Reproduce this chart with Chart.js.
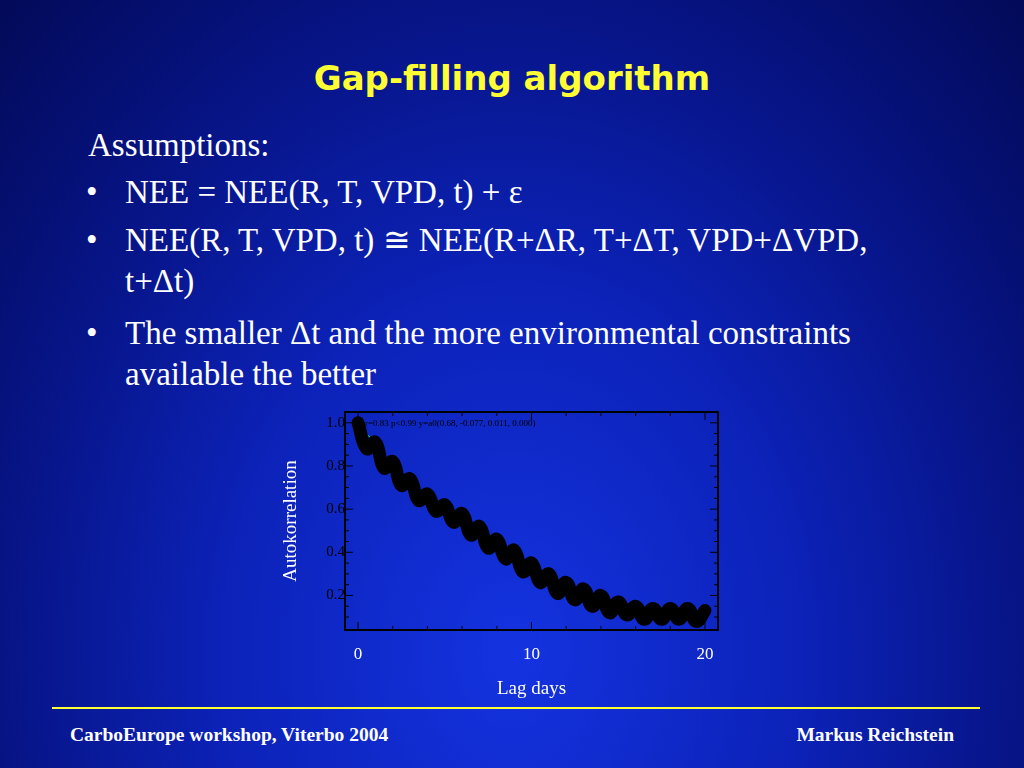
<!DOCTYPE html>
<html>
<head>
<meta charset="utf-8">
<script src="https://cdn.jsdelivr.net/npm/chart.js@4"></script>
<style>
  html, body { margin: 0; padding: 0; }
  body {
    width: 1024px; height: 768px; position: relative; overflow: hidden;
    background: radial-gradient(ellipse at 50% 85%, #1433e0 0%, #0c22b8 40%, #06127e 75%, #030a58 100%);
    font-family: "Liberation Serif", "DejaVu Serif", serif; color: #fff;
  }
  h1 {
    position: absolute; left: 0; width: 1024px; top: 58px; margin: 0; text-align: center;
    font-family: "DejaVu Sans", sans-serif; font-weight: bold; font-size: 34px; color: #ffff33;
  }
  .txt { position: absolute; font-size: 33px; line-height: 41px; }
  .bul { position: absolute; left: 86px; font-size: 33px; line-height: 41px; }
  #box { position: absolute; left: 270px; top: 405px; width: 470px; height: 295px; }
  #rule { position: absolute; left: 52px; top: 707px; width: 928px; height: 2px; background: #ffff33; }
  .foot { position: absolute; top: 724px; font-size: 19.5px; font-weight: bold; }
</style>
</head>
<body>
<h1>Gap-filling algorithm</h1>
<div class="txt" style="left:88px;top:125px">Assumptions:</div>
<div class="bul" style="top:172px">•</div>
<div class="txt" style="left:125px;top:172px">NEE = NEE(R, T, VPD, t) + ε</div>
<div class="bul" style="top:220px">•</div>
<div class="txt" style="left:125px;top:220px">NEE(R, T, VPD, t) ≅ NEE(R+ΔR, T+ΔT, VPD+ΔVPD,<br>t+Δt)</div>
<div class="bul" style="top:313px">•</div>
<div class="txt" style="left:125px;top:313px">The smaller Δt and the more environmental constraints<br>available the better</div>
<div id="box"><canvas id="c" width="470" height="295"></canvas></div>
<div id="rule"></div>
<div class="foot" style="left:70px">CarboEurope workshop, Viterbo 2004</div>
<div class="foot" style="right:70px">Markus Reichstein</div>
<script>
// lag in days (half-day steps) and autocorrelation
const lagDays = [0,0.5,1,1.5,2,2.5,3,3.5,4,4.5,5,5.5,6,6.5,7,7.5,8,8.5,9,9.5,10,
  10.5,11,11.5,12,12.5,13,13.5,14,14.5,15,15.5,16,16.5,17,17.5,18,18.5,19,19.5,20];
const autocorr = [1.0,0.88,0.91,0.79,0.82,0.71,0.74,0.64,0.67,0.59,0.62,0.54,0.58,0.48,0.52,0.42,0.46,0.37,0.41,0.31,0.35,
  0.26,0.30,0.21,0.26,0.18,0.23,0.15,0.20,0.12,0.17,0.11,0.15,0.09,0.14,0.09,0.14,0.09,0.14,0.08,0.13];
const fitLag = [0.3, 0.9];
const fitVal = [0.96, 0.92];
const fitLag2 = [18.6, 19.3];
const fitVal2 = [0.115, 0.11];
const xTicks = [0, 10, 20];
const yTicks = [0.2, 0.4, 0.6, 0.8, 1.0];
const fitNote = "r=0.83 p<0.99 y=a0(0.68, -0.077, 0.011, 0.000)";

const frame = {
  id: 'frame',
  afterDraw(chart) {
    const { ctx, chartArea: a, scales } = chart;
    ctx.save();
    ctx.strokeStyle = '#000'; ctx.lineWidth = 2;
    ctx.strokeRect(a.left, a.top, a.right - a.left, a.bottom - a.top);
    ctx.lineWidth = 1;
    for (const v of [0,2,4,6,8,10,12,14,16,18,20]) {
      const x = scales.x.getPixelForValue(v), l = v % 10 === 0 ? 8 : 4;
      ctx.beginPath(); ctx.moveTo(x, a.bottom); ctx.lineTo(x, a.bottom - l);
      ctx.moveTo(x, a.top); ctx.lineTo(x, a.top + l); ctx.stroke();
    }
    for (let v = 0.1; v < 1.05; v += 0.05) {
      const y = scales.y.getPixelForValue(v), l = Math.abs(v * 5 - Math.round(v * 5)) < 0.01 ? 8 : 4;
      ctx.beginPath(); ctx.moveTo(a.left, y); ctx.lineTo(a.left + l, y);
      ctx.moveTo(a.right, y); ctx.lineTo(a.right - l, y); ctx.stroke();
    }
    ctx.fillStyle = '#000'; ctx.font = '9px "Liberation Serif"';
    ctx.fillText(fitNote, a.left + 20, a.top + 14);
    ctx.restore();
  }
};

new Chart(document.getElementById('c'), {
  type: 'line',
  data: {
    datasets: [
      { data: lagDays.map((x, i) => ({ x, y: autocorr[i] })), borderColor: '#000', borderWidth: 13,
        tension: 0.45, pointRadius: 0, borderCapStyle: 'round' },
      { data: fitLag.map((x, i) => ({ x, y: fitVal[i] })), borderColor: '#22dd22', borderWidth: 1, pointRadius: 0 },
      { data: fitLag2.map((x, i) => ({ x, y: fitVal2[i] })), borderColor: '#22dd22', borderWidth: 1.5, pointRadius: 0 }
    ]
  },
  options: {
    responsive: false, animation: false,
    layout: { padding: { top: 7, right: 22 } },
    plugins: { legend: { display: false }, tooltip: { enabled: false } },
    scales: {
      x: {
        type: 'linear', min: -0.75, max: 20.75,
        afterBuildTicks: s => { s.ticks = xTicks.map(v => ({ value: v })); },
        afterFit: s => { s.height = 70; },
        grid: { display: false }, border: { display: false },
        ticks: { color: '#fff', font: { family: 'Liberation Serif', size: 17 }, padding: 6 },
        title: { display: true, text: 'Lag days', color: '#fff', font: { family: 'Liberation Serif', size: 19 }, padding: 0 }
      },
      y: {
        min: 0.04, max: 1.05,
        afterBuildTicks: s => { s.ticks = yTicks.map(v => ({ value: v })); },
        afterFit: s => { s.width = 75; },
        grid: { display: false }, border: { display: false },
        ticks: { color: '#000', font: { family: 'Liberation Serif', size: 15 }, padding: -8,
          callback: v => v.toFixed(1) },
        title: { display: true, text: 'Autokorrelation', color: '#fff', font: { family: 'Liberation Serif', size: 19 }, padding: 10 }
      }
    }
  },
  plugins: [frame]
});
</script>
</body>
</html>
